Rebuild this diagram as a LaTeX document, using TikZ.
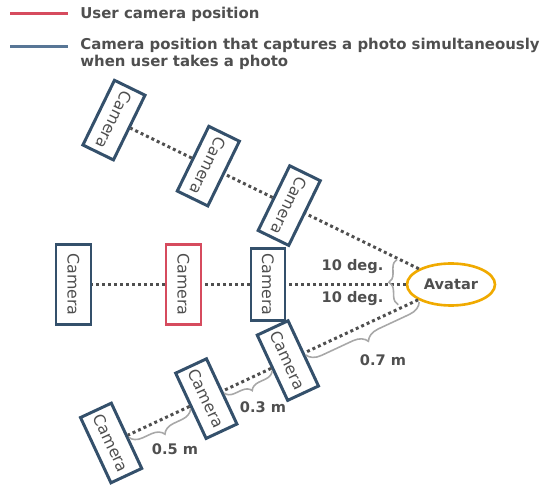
\documentclass[tikz,border=0pt]{standalone}
\usepackage{fontspec}
\setmainfont{DejaVu Sans}
\usepackage{xcolor}
\usepackage{tikz}
\usetikzlibrary{shapes,arrows,positioning,fit,calc,decorations.pathreplacing}

\definecolor{camblue}{HTML}{34506B}
\definecolor{userred}{HTML}{D64B5E}
\definecolor{legblue}{HTML}{587696}
\definecolor{avatarorange}{HTML}{F0AA00}
\definecolor{textgray}{HTML}{4F4F4F}
\definecolor{bracegray}{HTML}{A8A8A8}

\begin{document}
\begin{tikzpicture}[
    cam/.style={draw=camblue, line width=1.7pt, fill=white, inner sep=0pt,
      minimum width=1.44cm, minimum height=0.68cm, text=textgray,
      font=\fontsize{9}{10}\selectfont},
    tallcam/.style={minimum width=1.6cm, minimum height=0.7cm},
    usercam/.style={draw=userred},
    avatar/.style={ellipse, draw=avatarorange, line width=1.5pt, inner sep=0pt,
      minimum width=1.76cm, minimum height=0.84cm, text=textgray,
      font=\fontsize{8.3}{10}\bfseries},
    dotline/.style={draw=textgray, line width=1.7pt, dash pattern=on 1.7pt off 1.7pt},
    bracelines/.style={draw=bracegray, line width=0.9pt, decorate,
      decoration={brace, amplitude=#1}},
    lbl/.style={text=textgray, font=\fontsize{8.3}{10}\bfseries},
    legend/.style={text=textgray, inner sep=0pt, anchor=west, align=left,
      font=\fontsize{8.5}{9.8}\bfseries}
  ]
  \useasboundingbox (0,0) rectangle (11,9.7);

  % Legend
  \node[legend] (leg-user) at (1.6,9.42) {User camera position};
  \node[legend] (leg-sync) at (1.6,8.63) {Camera position that captures a photo simultaneously\\when user takes a photo};
  \draw[userred, line width=1.7pt] ($(leg-user.west)+(-1.4,0)$) -- ($(leg-user.west)+(-0.24,0)$);
  \draw[legblue, line width=1.7pt] ($(leg-sync.west)+(-1.4,0.14)$) -- ($(leg-sync.west)+(-0.24,0.14)$);

  % Avatar
  \node[avatar] (avatar) at (9.02,4.01) {Avatar};

  % Cameras on the tilted lines
  \foreach \ang/\row in {154/up,205/low} {
    \pgfmathsetmacro{\rot}{\ang+90}
    \foreach \d/\k in {3.6/1,5.4/2,7.5/3} {
      \node[cam, rotate=\rot] (cam-\row-\k) at ($(avatar.center)+(\ang:\d)$) {Camera};
    }
  }

  % Cameras on the straight line
  \node[cam, rotate=-90] (cam-mid-1) at ($(avatar.center)+(180:3.66)$) {Camera};
  \node[cam, tallcam, usercam, rotate=-90] (cam-mid-2) at ($(avatar.center)+(180:5.35)$) {Camera};
  \node[cam, tallcam, rotate=-90] (cam-mid-3) at ($(avatar.center)+(180:7.55)$) {Camera};

  % Dotted lines
  \foreach \row in {up,mid,low} {
    \draw[dotline] (avatar) -- (cam-\row-1);
    \draw[dotline] (cam-\row-1) -- (cam-\row-2);
    \draw[dotline] (cam-\row-2) -- (cam-\row-3);
  }

  % Angle brace
  \draw[bracelines=5pt] ($(avatar.center)+(201:1.13)$) -- ($(avatar.center)+(155:1.19)$);
  \node[lbl] (deg-up) at (7.05,4.36) {10 deg.};
  \node[lbl] (deg-low) at (7.05,3.72) {10 deg.};

  % Distance braces
  \draw[bracelines=8pt] ($(avatar.205)+(-65:0.05)$) -- ($(cam-low-1.north)+(-65:0.05)$);
  \draw[bracelines=5.5pt] ($(cam-low-1.south)+(-65:0.05)$) -- ($(cam-low-2.north)+(-65:0.05)$);
  \draw[bracelines=7pt] ($(cam-low-2.south)+(-65:0.05)$) -- ($(cam-low-3.north)+(-65:0.05)$);
  \node[lbl] (dist-07) at (7.66,2.5) {0.7 m};
  \node[lbl] (dist-03) at (5.26,1.56) {0.3 m};
  \node[lbl] (dist-05) at (3.5,0.72) {0.5 m};
\end{tikzpicture}
\end{document}
